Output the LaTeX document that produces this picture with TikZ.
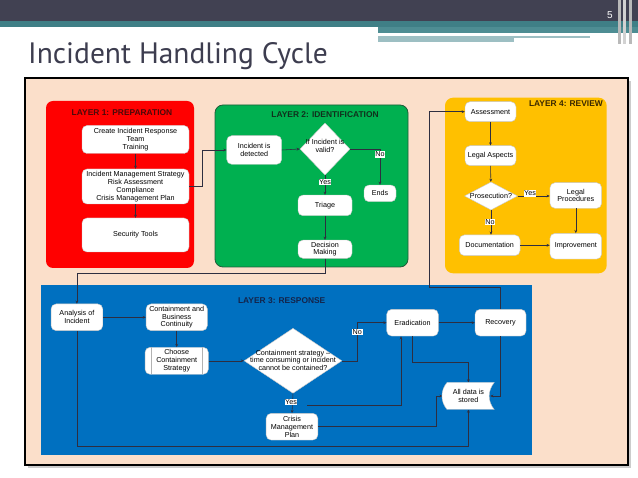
\documentclass[tikz,border=0pt]{standalone}
\usepackage{fontspec}
\setmainfont{Liberation Sans}
\newfontfamily\slidetitlefont{PT Sans}
\usetikzlibrary{arrows.meta,shapes.geometric}
\definecolor{darkbar}{HTML}{414152}
\definecolor{tealA}{HTML}{3F7F86}
\definecolor{tealB}{HTML}{4E8D93}
\definecolor{tealC}{HTML}{9DBFC3}
\definecolor{titlegray}{HTML}{3D3D4F}
\definecolor{peach}{HTML}{FBDFCA}
\definecolor{lred}{HTML}{FF0000}
\definecolor{lgreen}{HTML}{00B050}
\definecolor{lgreenborder}{HTML}{1E5E3A}
\definecolor{lyellow}{HTML}{FFC000}
\definecolor{lblue}{HTML}{0070C0}
\definecolor{tred}{HTML}{4A0A0A}
\definecolor{tgreen}{HTML}{10301C}
\definecolor{tyellow}{HTML}{3A2800}
\definecolor{tblue}{HTML}{14244A}
\definecolor{linec}{HTML}{2E2E40}
\newcommand\boxfnt{\fontsize{7.2}{7.8}\selectfont}
\newcommand\layerfnt{\fontsize{8.4}{9}\selectfont\bfseries}
\begin{document}
\begin{tikzpicture}[x=1pt,y=-1pt,
  box/.style={draw=gray!45, line width=0.4pt, fill=white, rounded corners=5pt,
    align=center, font=\boxfnt, inner sep=1pt, text=black},
  dia/.style={diamond, draw=gray!45, line width=0.4pt, fill=white, inner sep=0pt},
  txt/.style={align=center, font=\boxfnt, inner sep=0pt, text=black},
  lab/.style={fill=white, font=\boxfnt, inner sep=0.6pt, text=black},
  ltitle/.style={font=\layerfnt, inner sep=0pt},
  arr/.style={draw=linec, line width=0.55pt, -{Stealth[length=3.2pt,width=2.8pt]}}]
\useasboundingbox (0,0) rectangle (638,478);
\fill[white] (0,0) rectangle (638,478);
% header
\fill[darkbar] (0,0) rectangle (638,21);
\fill[tealA] (0,21) rectangle (638,27);
\fill[tealB] (378,27) rectangle (638,33);
\fill[tealC] (378,36) rectangle (514,42);
\fill[tealC] (514,36) rectangle (590,38.5);
\fill[gray!55] (618,0) rectangle (621,44);
\fill[gray!35] (623,0) rectangle (626,44);
\fill[gray!55] (629,0) rectangle (632,44);
\node[font=\fontsize{10}{11}\selectfont, text=white, inner sep=0pt] (pg) at (610,15) {5};
\node[font=\slidetitlefont\fontsize{29.5}{31}\selectfont, text=titlegray, anchor=base west, inner sep=0pt] (ttl) at (28,64) {Incident Handling Cycle};
% frame
\fill[gray!40] (28,81) rectangle (631,468);
\draw[black, line width=1.3pt, fill=peach] (25,78) rectangle (628,465);

% ---------- Layer 1
\fill[lred, rounded corners=7pt] (46,101) rectangle (194,268);
\node[ltitle, text=tred] (t1) at (122,113) {LAYER 1: PREPARATION};
\node[box, minimum width=107pt, minimum height=28pt] (p1) at (135.5,139.5) {Create Incident Response\\Team\\Training};
\node[box, minimum width=107pt, minimum height=35pt] (p2) at (135.5,186.5) {Incident Management Strategy\\Risk Assessment\\Compliance\\Crisis Management Plan};
\node[box, minimum width=107pt, minimum height=34pt] (p3) at (135.5,235) {Security Tools};
\draw[arr] (p1) -- (p2);
\draw[arr] (p2) -- (p3);

% ---------- Layer 2
\draw[lgreenborder, line width=0.8pt, fill=lgreen, rounded corners=8pt] (215,105) rectangle (408,267);
\node[ltitle, text=tgreen] (t2) at (325,115) {LAYER 2: IDENTIFICATION};
\node[box, minimum width=55pt, minimum height=28.6pt] (det) at (254.2,150) {Incident is\\detected};
\node[dia, minimum width=50pt, minimum height=52pt] (val) at (325,149) {};
\node[txt] (valt) at (325,146) {If Incident is\\valid?};
\node[box, minimum width=32pt, minimum height=16.7pt] (ends) at (380,193.4) {Ends};
\node[box, minimum width=54pt, minimum height=20.7pt] (tri) at (325,205.4) {Triage};
\node[box, minimum width=54pt, minimum height=18.3pt] (dm) at (325,249.2) {Decision\\Making};
\draw[arr] (p2.east) -- ++(13,0) |- (det.west);
\draw[arr] (det.east) -- (val.west);
\draw[arr] (val.east) -| (ends.north);
\node[lab] (no1) at (380,154.5) {No};
\draw[arr] (val.south) -- (tri.north);
\node[lab] (yes1) at (325,182) {Yes};
\draw[arr] (tri.south) -- (dm.north);

% ---------- Layer 4
\fill[lyellow, rounded corners=8pt] (445,97.7) rectangle (606.7,273.3);
\node[ltitle, text=tyellow, anchor=east] (t4) at (603,104) {LAYER 4: REVIEW};
\node[box, minimum width=51pt, minimum height=20pt] (ass) at (490.5,111.7) {Assessment};
\node[box, minimum width=51pt, minimum height=20pt] (leg) at (490.5,155.7) {Legal Aspects};
\node[dia, minimum width=53pt, minimum height=28pt] (pros) at (491,196) {};
\node[txt] (prost) at (491,196) {Prosecution?};
\node[box, minimum width=51.7pt, minimum height=25.6pt] (lproc) at (575.8,195.5) {Legal\\Procedures};
\node[box, minimum width=60.7pt, minimum height=20.7pt] (doc) at (489.7,245.3) {Documentation};
\node[box, minimum width=51.7pt, minimum height=25.7pt] (imp) at (575.8,246.2) {Improvement};
\draw[arr] (ass) -- (leg);
\draw[arr] (leg) -- (pros);
\draw[arr] (pros.east) -- (lproc.west |- pros.east);
\node[lab] (yes4) at (530,193.5) {Yes};
\draw[arr] (pros.south) -- (pros.south |- doc.north);
\node[lab] (no4) at (490,221.7) {No};
\draw[arr] (lproc) -- (imp);
\draw[arr] (doc.east) -- (imp.west |- doc.east);

% ---------- Layer 3
\fill[lblue] (41,285) rectangle (532.3,455);
\node[ltitle, text=tblue] (t3) at (281.7,301) {LAYER 3: RESPONSE};
\node[box, minimum width=51.7pt, minimum height=26.7pt] (ana) at (76.9,317.3) {Analysis of\\Incident};
\node[box, minimum width=61.3pt, minimum height=26.7pt] (cbc) at (176.7,317.3) {Containment and\\Business\\Continuity};
\node[box, minimum width=63.3pt, minimum height=27pt] (ccs) at (176.7,360.8) {Choose\\Containment\\Strategy};
\draw[gray!60, line width=0.4pt] ([xshift=6.5pt]ccs.north west) -- ([xshift=6.5pt]ccs.south west);
\draw[gray!60, line width=0.4pt] ([xshift=-6.5pt]ccs.north east) -- ([xshift=-6.5pt]ccs.south east);
\node[dia, minimum width=97.6pt, minimum height=65pt] (cst) at (293,360.8) {};
\node[txt, font=\fontsize{7.2}{7.7}\selectfont] (cstt) at (293,360.3) {Containment strategy --\\time consuming or incident\\cannot be contained?};
\node[box, minimum width=51.7pt, minimum height=26.7pt] (cri) at (292,426.7) {Crisis\\Management\\Plan};
\node[box, minimum width=51.6pt, minimum height=26.7pt] (era) at (412.5,322.7) {Eradication};
\node[box, minimum width=51pt, minimum height=26.7pt] (rec) at (500.5,322.7) {Recovery};
\node[minimum width=51.3pt, minimum height=26.6pt, inner sep=0pt] (ads) at (468.4,396) {};
\coordinate (c1) at (325,273);
\coordinate (r1) at (429,287);
\coordinate (c2) at (436.7,396);
\coordinate (br) at (307,405);
\draw[arr] (dm.south) -- (c1) -| (ana.north);
\draw[arr] (ana.east) -- (cbc.west);
\draw[arr] (cbc.south) -- (ccs.north);
\draw[arr] (ccs.east) -- (cst.west);
\draw[arr] (cst.east) -- ++(15.3,0) |- (era.west);
\node[lab] (no3) at (357.3,331.7) {No};
\draw[arr] (cst.south) -- (cri.north);
\draw[arr] (br) -| ([xshift=-11.5pt]era.south);
\draw[arr] (era.east) -- (rec.west);
\draw[arr] (era.south) -- ++(0,26.5) -| (ads.north);
\draw[arr] (cri.east) -| (c2) -- (ads.west);
\draw[arr] (ana.south) -- ++(0,115) -| (ads.south);
% data store shape
\draw[draw=gray!45, line width=0.4pt, fill=white]
  ([xshift=4.5pt]ads.north west) -- (ads.north east)
  to[out=-130,in=130] (ads.south east)
  -- ([xshift=4.5pt]ads.south west)
  to[out=130,in=-130] ([xshift=4.5pt]ads.north west) -- cycle;
\node[txt] (adst) at (468.4,396) {All data is\\stored};
\draw[arr] (rec.south) |- ([xshift=-4pt]ads.east);
\draw[arr] (rec.north) |- (r1) |- (ass.west);
\node[lab] (yes3) at (291,402) {Yes};
\end{tikzpicture}
\end{document}
